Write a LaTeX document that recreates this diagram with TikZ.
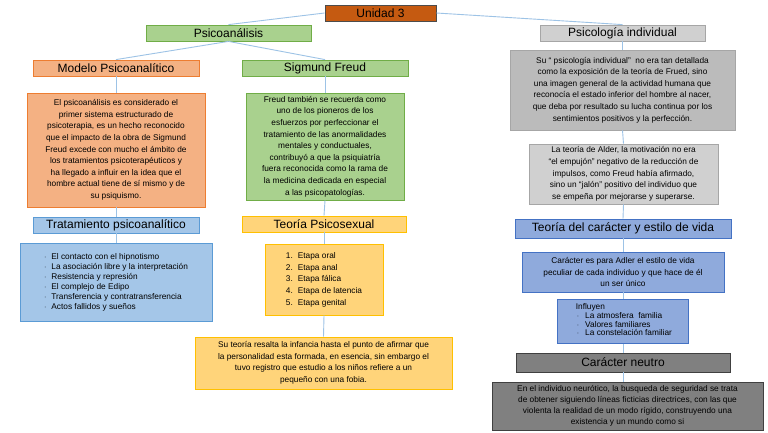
\documentclass[tikz,border=0pt]{standalone}
\usepackage{fontspec}
\setmainfont{Liberation Sans}
\begin{document}
\begin{tikzpicture}[x=1pt,y=-1pt,
 box/.style={draw,line width=0.8pt,inner sep=0pt,align=center},
 ttl/.style={box,font=\fontsize{12}{14}\selectfont},
 txt/.style={box,font=\fontsize{8.3}{11.6}\selectfont},
 ln/.style={draw=cyan!30!blue!35,line width=0.9pt}]
\useasboundingbox[fill=white] (0,0) rectangle (768,433);
\definecolor{gf}{HTML}{A9D18E}\definecolor{gb}{HTML}{70AD47}
\definecolor{of}{HTML}{F4B183}\definecolor{ob}{HTML}{ED7D31}
\definecolor{bf}{HTML}{A4C6E8}\definecolor{bb}{HTML}{5B9BD5}
\definecolor{yf}{HTML}{FFD47A}\definecolor{yb}{HTML}{FFC000}
\definecolor{sf}{HTML}{D0D0D0}\definecolor{sb}{HTML}{A6A6A6}
\definecolor{pf}{HTML}{8FAADC}\definecolor{pb}{HTML}{4472C4}
\definecolor{nf}{HTML}{808080}\definecolor{nb}{HTML}{404040}
\definecolor{lc}{HTML}{9DC3E6}
\tikzset{ln/.style={draw=lc,line width=0.9pt}}
% nodes
\node[ttl,fill={rgb,255:red,197;green,90;blue,17},draw=black!70,minimum width=111,minimum height=16] (u) at (380.5,13) {Unidad 3};
\node[ttl,fill=gf,draw=gb,minimum width=165,minimum height=16] (p) at (228.5,33) {Psicoanálisis};
\node[ttl,fill=of,draw=ob,minimum width=166,minimum height=16] (m) at (116,68) {Modelo Psicoanalítico};
\node[ttl,fill=gf,draw=gb,minimum width=166,minimum height=16] (f) at (325,68) {Sigmund Freud};
\node[txt,fill=of,draw=ob,minimum width=178,minimum height=114] (mt) at (116,150) {El psicoanálisis es considerado el\\primer sistema estructurado de\\psicoterapia, es un hecho reconocido\\que el impacto de la obra de Sigmund\\Freud excede con mucho el ámbito de\\los tratamientos psicoterapéuticos y\\ha llegado a influir en la idea que el\\hombre actual tiene de sí mismo y de\\su psiquismo.};
\node[txt,fill=gf,draw=gb,minimum width=158,minimum height=107] (ft) at (325,146.5) {Freud también se recuerda como\\uno de los pioneros de los\\esfuerzos por perfeccionar el\\tratamiento de las anormalidades\\mentales y conductuales,\\contribuyó a que la psiquiatría\\fuera reconocida como la rama de\\la medicina dedicada en especial\\a las psicopatologías.};
\node[ttl,fill=bf,draw=bb,minimum width=166,minimum height=16] (t) at (116,225) {Tratamiento psicoanalítico};
\node[txt,fill=bf,draw=bb,minimum width=192,minimum height=78,align=left] (tl) at (116,282) {\begin{tabular}{@{}l@{\hspace{5pt}}l@{}}
$\cdot$&El contacto con el hipnotismo\\[-1.5pt]$\cdot$&La asociación libre y la interpretación\\[-1.5pt]$\cdot$&Resistencia y represión\\[-1.5pt]$\cdot$&El complejo de Edipo\\[-1.5pt]$\cdot$&Transferencia y contratransferencia\\[-1.5pt]$\cdot$&Actos fallidos y sueños\end{tabular}};
\node[ttl,fill=yf,draw=yb,minimum width=164,minimum height=16] (ps) at (324,224) {Teoría Psicosexual};
\node[txt,fill=yf,draw=yb,minimum width=118,minimum height=71,align=left] (pl) at (324,279.5) {\begin{tabular}{@{}l@{\hspace{5pt}}l@{}}
1.&Etapa oral\\2.&Etapa anal\\3.&Etapa fálica\\4.&Etapa de latencia\\5.&Etapa genital\end{tabular}};
\node[txt,fill=yf,draw=yb,minimum width=257,minimum height=52] (st) at (323.5,363) {Su teoría resalta la infancia hasta el punto de afirmar que\\la personalidad esta formada, en esencia, sin embargo el\\tuvo registro que estudio a los niños refiere a un\\pequeño con una fobia.};
\node[ttl,fill=sf,draw=sb,minimum width=165,minimum height=16] (pi) at (622.5,33) {Psicología individual};
\node[txt,fill=sf!90!black,draw=sb,minimum width=225,minimum height=80] (pt) at (622.5,90) {Su “ psicología individual”\ \ no era tan detallada\\como la exposición de la teoría de Frued, sino\\una imagen general de la actividad humana que\\reconocía el estado inferior del hombre al nacer,\\que deba por resultado su lucha continua por los\\sentimientos positivos y la perfección.};
\node[txt,fill=sf,draw=sb,minimum width=189,minimum height=60] (at) at (623.5,174) {La teoría de Alder, la motivación no era\\“el empujón” negativo de la reducción de\\impulsos, como Freud había afirmado,\\sino un “jalón” positivo del individuo que\\se empeña por mejorarse y superarse.};
\node[ttl,fill=pf,draw=pb,minimum width=216,minimum height=19] (tc) at (623,228.5) {Teoría del carácter y estilo de vida};
\node[txt,fill=pf,draw=pb,minimum width=202,minimum height=40] (ce) at (623,272) {Carácter es para Adler el estilo de vida\\peculiar de cada individuo y que hace de él\\un ser único};
\node[txt,fill=pf,draw=pb,minimum width=131,minimum height=44,align=left,anchor=north west,font=\fontsize{8.3}{10.5}\selectfont] (in) at (557,299) {\hspace*{2pt}Influyen\\[-1pt]\begin{tabular}{@{}l@{\hspace{6pt}}l@{}}\hspace*{3pt}$\cdot$&La atmosfera\ \ familia\\[-2pt]\hspace*{3pt}$\cdot$&Valores familiares\\[-2pt]\hspace*{3pt}$\cdot$&La constelación familiar\end{tabular}};
\node[ttl,fill=nf,draw=nb,minimum width=214,minimum height=19] (cn) at (623,362.5) {Carácter neutro};
\node[txt,fill=nf,draw=nb,minimum width=271,minimum height=48,font=\fontsize{8.3}{10.8}\selectfont] (en) at (627.5,406) {En el individuo neurótico, la busqueda de seguridad se trata\\de obtener siguiendo líneas ficticias directrices, con las que\\violenta la realidad de un modo rígido, construyendo una\\existencia y un mundo como si};
% connectors
\begin{scope}[on background layer/.style={}]
\end{scope}
\path[ln] (u.west) -- (p.north);
\path[ln] (u.east) -- (pi.north);
\path[ln] (p.south) -- (m.north);
\path[ln] (p.south) -- (f.north);
\path[ln] (m.south) -- (mt.north);
\path[ln] (mt.south) -- (t.north);
\path[ln] (t.south) -- (tl.north);
\path[ln] (f.south) -- (ft.north);
\path[ln] (ft.south) -- (ps.north);
\path[ln] (ps.south) -- (pl.north);
\path[ln] (pl.south) -- (st.north);
\path[ln] (pi.south) -- (pt.north);
\path[ln] (pt.south) -- (at.north);
\path[ln] (at.south) -- (tc.north);
\path[ln] (tc.south) -- (ce.north);
\path[ln] (ce.south) -- (ce.south|-in.north);
\path[ln] (ce.south|-in.south) -- (cn.north);
\path[ln] (cn.south) -- (cn.south|-en.north);
\end{tikzpicture}
\end{document}
